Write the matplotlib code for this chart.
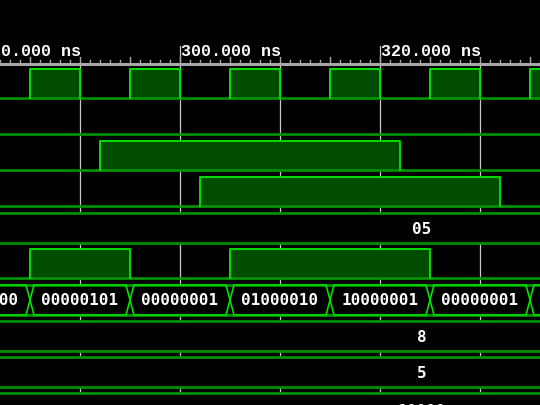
import matplotlib
matplotlib.use("Agg")
import matplotlib.pyplot as plt
from matplotlib.patches import Polygon, Rectangle

# time window (ns) and waveform data
T0, T1 = 282.0, 336.0
clk_rises = [285, 295, 305, 315, 325, 335]
clk_half = 5
sig3_pulses = [(292, 322)]
sig4_pulses = [(302, 332)]
sig6_pulses = [(285, 295), (305, 325)]
bus_edges = [275, 285, 295, 305, 315, 325, 335, 345]
bus_values = ["00000000", "00000101", "00000001", "01000010", "10000001", "00000001", "00000000"]
const_bus = [(213, "05"), (321, "8"), (357, "5"), (393, "10000")]
ruler_labels = [280, 300, 320, 340]

ROW_H = 29
EDGE = "#00e000"
FILL = "#004d00"
LINE = "#009000"
GRID = "#c8c8c8"
FONT = dict(color="white", fontsize=11.5, family="DejaVu Sans Mono", fontweight="bold", zorder=4)

fig = plt.figure(figsize=(5.4, 4.05), dpi=100, facecolor="black")
ax = fig.add_axes([0, 0, 1, 1])
ax.set_facecolor("black")
ax.set_xlim(T0, T1)
ax.set_ylim(405, 0)
ax.axis("off")

# grid
for t in range(280, 341, 10):
    ax.plot([t, t], [46 if t in ruler_labels else 62, 405], color=GRID, lw=0.9, zorder=1)

# ruler
ax.plot([T0, T1], [64, 64], color="#a8a8a8", lw=2.2, zorder=3)
for i in range(int(T0), int(T1) + 1):
    h = 7 if i % 5 == 0 else 4
    ax.plot([i, i], [64, 64 - h], color="#a8a8a8", lw=1, zorder=3)
for t in ruler_labels:
    ax.text(t + 0.1, 52, f"{t}.000 ns", ha="left", va="center",
            **{**FONT, "family": "Liberation Mono", "fontsize": 12})


def pulses(low, segs):
    ax.plot([T0, T1], [low, low], color=LINE, lw=2, zorder=2)
    for a, b in segs:
        ax.add_patch(Rectangle((a, low - ROW_H), b - a, ROW_H, facecolor=FILL,
                               edgecolor="none", zorder=1.5))
        ax.plot([a, a, b, b], [low, low - ROW_H, low - ROW_H, low], color=EDGE, lw=1.4, zorder=3)


pulses(98, [(r, r + clk_half) for r in clk_rises])
ax.plot([T0, T1], [134, 134], color=LINE, lw=2, zorder=2)
pulses(170, sig3_pulses)
pulses(206, sig4_pulses)
pulses(278, sig6_pulses)

# bus with transitions
top, bot = 285, 315
mid = (top + bot) / 2
ax.add_patch(Rectangle((T0, top), T1 - T0, bot - top, facecolor="black", zorder=1.8))
d = 0.4
for (a, b), v in zip(zip(bus_edges[:-1], bus_edges[1:]), bus_values):
    ax.add_patch(Polygon([(a, mid), (a + d, top), (b - d, top), (b, mid), (b - d, bot), (a + d, bot)],
                         closed=True, fill=False, edgecolor=EDGE, lw=1.2, zorder=3))
    ax.text((a + b) / 2, mid + 0.5, v, ha="center", va="center", **FONT)
ax.plot([T0, T1], [top, top], color=LINE, lw=2, zorder=2.5)
ax.plot([T0, T1], [bot, bot], color=LINE, lw=2, zorder=2.5)

# constant-value buses
for y, v in const_bus:
    ax.add_patch(Rectangle((T0, y), T1 - T0, 30, facecolor="black", zorder=1.8))
    ax.plot([T0, T1], [y, y], color=LINE, lw=2, zorder=2.5)
    ax.plot([T0, T1], [y + 30, y + 30], color=LINE, lw=2, zorder=2.5)
    ax.text(324.2, y + 16.5 if y < 390 else y + 19, v, ha="center", va="center", **FONT)

fig.savefig("out.png", dpi=100, facecolor="black")
